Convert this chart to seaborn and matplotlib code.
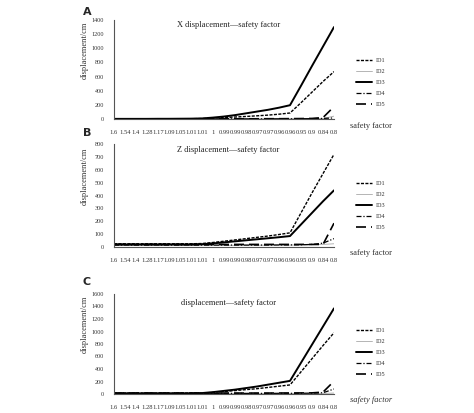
import matplotlib
matplotlib.use("Agg")
import matplotlib.pyplot as plt
import seaborn as sns

# safety factor categories (x axis)
sf_labels = ['1.6', '1.54', '1.4', '1.28', '1.17', '1.09', '1.05', '1.01', '1.01', '1',
             '0.99', '0.99', '0.98', '0.97', '0.97', '0.96', '0.96', '0.95', '0.9', '0.84', '0.8']
ids = ['ID1', 'ID2', 'ID3', 'ID4', 'ID5']

# A: X displacement (cm)
x_id1 = [3, 3, 3, 3, 3, 3, 3, 4, 6, 12, 20, 28, 36, 45, 55, 68, 85, 230, 380, 530, 670]
x_id2 = [1, 1, 1, 1, 1, 1, 1, 1, 1, 2, 2, 2, 2, 3, 3, 3, 4, 5, 6, 8, 40]
x_id3 = [2, 2, 2, 2, 3, 3, 4, 5, 8, 20, 35, 55, 80, 105, 130, 160, 195, 470, 750, 1025, 1300]
x_id4 = [1, 1, 1, 1, 1, 1, 1, 1, 1, 1, 2, 2, 2, 2, 2, 3, 3, 4, 5, 8, 15]
x_id5 = [2, 2, 2, 2, 2, 2, 2, 2, 2, 2, 3, 3, 3, 3, 4, 4, 5, 6, 8, 20, 175]

# B: Z displacement (cm)
z_id1 = [25, 25, 25, 25, 25, 25, 25, 25, 27, 35, 45, 55, 65, 75, 85, 97, 110, 265, 420, 570, 720]
z_id2 = [12, 12, 12, 12, 12, 12, 12, 12, 12, 12, 13, 13, 13, 14, 14, 14, 15, 16, 18, 20, 25]
z_id3 = [20, 20, 20, 20, 20, 20, 20, 20, 22, 28, 36, 44, 52, 60, 68, 76, 85, 175, 265, 355, 440]
z_id4 = [15, 15, 15, 15, 15, 15, 15, 15, 15, 15, 15, 15, 15, 15, 15, 16, 16, 17, 20, 30, 65]
z_id5 = [20, 20, 20, 20, 20, 20, 20, 20, 20, 20, 20, 20, 20, 20, 20, 20, 20, 20, 20, 20, 185]

# C: displacement (cm)
d_id1 = [15, 15, 15, 15, 15, 15, 15, 15, 15, 25, 40, 55, 70, 85, 105, 125, 145, 355, 565, 775, 980]
d_id2 = [5, 5, 5, 5, 5, 5, 5, 5, 5, 5, 5, 6, 6, 6, 6, 7, 7, 8, 9, 10, 15]
d_id3 = [10, 10, 10, 10, 10, 10, 10, 10, 15, 30, 50, 70, 95, 120, 150, 180, 210, 500, 790, 1080, 1370]
d_id4 = [10, 10, 10, 10, 10, 10, 10, 10, 10, 10, 10, 10, 10, 10, 10, 11, 11, 12, 14, 20, 80]
d_id5 = [15, 15, 15, 15, 15, 15, 15, 15, 15, 15, 15, 15, 15, 15, 15, 16, 16, 17, 18, 30, 205]

panels = [
    ('A', 'X displacement\u2014safety factor', [x_id1, x_id2, x_id3, x_id4, x_id5], 1400, 200),
    ('B', 'Z displacement\u2014safety factor', [z_id1, z_id2, z_id3, z_id4, z_id5], 800, 100),
    ('C', 'displacement\u2014safety factor', [d_id1, d_id2, d_id3, d_id4, d_id5], 1600, 200),
]

styles = {
    'ID1': dict(color='black', lw=1.0, linestyle=(0, (2.2, 1.0))),
    'ID2': dict(color='#a8a8a8', lw=0.6, linestyle='-'),
    'ID3': dict(color='black', lw=1.4, linestyle='-'),
    'ID4': dict(color='black', lw=0.9, linestyle=(0, (4, 1.5, 1, 1.5))),
    'ID5': dict(color='black', lw=1.2, linestyle=(0, (6, 3))),
}

sns.set_style("white")
plt.rcParams['font.family'] = ['Liberation Serif', 'DejaVu Serif']

fig = plt.figure(figsize=(4.74, 4.13), dpi=100)
W, H = 474, 413
# axes boxes in pixels: top, bottom
boxes = [(20, 119), (144, 247), (294, 394)]
legend_top = [52, 175, 322]
letter_y = [12, 133, 282]
title_y = [25, 150, 303]
sf_y = [126, 253, 400]
ylabel_y = [0.69, 0.69, 0.70]

xs = list(range(len(sf_labels)))
for k, (letter, title, series, ymax, ystep) in enumerate(panels):
    top, bot = boxes[k]
    ax = fig.add_axes([114 / W, 1 - bot / H, 220 / W, (bot - top) / H])
    for name, vals in zip(ids, series):
        sns.lineplot(x=xs, y=vals, ax=ax, label=name, **styles[name])
    ax.set_xlim(0, len(sf_labels) - 1)
    ax.set_ylim(0, ymax)
    ax.set_yticks(range(0, ymax + 1, ystep))
    ax.set_xticks(xs)
    ax.set_xticklabels(sf_labels)
    ax.tick_params(axis='both', length=0, labelsize=4.4, colors='#333333')
    ax.tick_params(axis='x', labelsize=4.7, pad=8)
    ax.tick_params(axis='y', pad=7)
    for s in ['top', 'right']:
        ax.spines[s].set_visible(False)
    ax.spines['left'].set_color('#555555')
    ax.spines['bottom'].set_color('#555555')
    ax.spines['left'].set_linewidth(0.8)
    ax.spines['bottom'].set_linewidth(0.8)
    ax.set_xlabel('')
    ax.set_ylabel('displacement/cm', fontsize=6, color='#333333')
    ax.yaxis.set_label_coords(-0.115, ylabel_y[k])
    ax.text(0.52, 1 - (title_y[k] - top) / (bot - top), title, transform=ax.transAxes,
            ha='center', va='center', fontsize=6, color='#222222')
    leg = ax.legend(loc='upper left', bbox_to_anchor=(350 / W, 1 - legend_top[k] / H),
                    bbox_transform=fig.transFigure, frameon=False, fontsize=4.5,
                    handlelength=2.6, labelspacing=0.9, handletextpad=0.6)
    for t in leg.get_texts():
        t.set_color('#333333')
    fig.text(350 / W, 1 - sf_y[k] / H, 'safety factor', fontsize=6, color='#333333',
             ha='left', va='center', style='italic' if letter == 'C' else 'normal')
    fig.text(87 / W, 1 - letter_y[k] / H, letter, fontsize=8, fontweight='bold',
             family=['DejaVu Sans'], ha='center', va='center')

fig.savefig('out.png', dpi=100)
